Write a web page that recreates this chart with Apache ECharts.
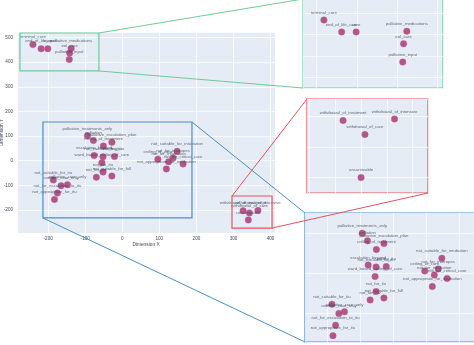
<!DOCTYPE html>
<html>
<head>
<meta charset="utf-8">
<script src="https://cdn.jsdelivr.net/npm/echarts@6/dist/echarts.min.js"></script>
<style>
  html, body { margin: 0; padding: 0; background: #ffffff; }
  #chart { width: 474px; height: 345px; }
</style>
</head>
<body>
<div id="chart"></div>
<script>
// Embedded terms and their 2-D projection coordinates
const terms = [
  'terminal_care', 'end_of_life_care', 'care', 'palliative_medications', 'eol_care', 'palliative_input',
  'withdrawal_of_treatment', 'withdrawal_of_intensive', 'withdrawal_of_care', 'unsurvivable',
  'palliative_treatments_only', 'palliation', 'palliative_escalation_plan', 'ceiling_of_treatment',
  'escalation_beyond', 'not_escalate_to_itu', 'ceiling_itu', 'ward_based_ceiling_of_care',
  'not_for_itu', 'not_for_niv', 'not_suitable_for_full',
  'not_suitable_for_itu', 'palliative_care_only', 'comfort_care_only', 'not_for_escalation_to_itu', 'not_appropriate_for_itu',
  'not_suitable_for_intubation', 'ceiling_of_care', 'not_for_inotropes', 'not_for_intubation',
  'not_for_critical_care', 'not_appropriate_for_intubation'
];
const dimX = [
  -241, -219, -201, -138, -142, -143,
  326, 366, 343, 340,
  -94, -78, -28, -51,
  -76, -52, -21, -55,
  -52, -70, -28,
  -186, -148, -165, -175, -183,
  148, 96, 137, 125,
  164, 119
];
const dimY = [
  471, 454, 454, 455, 437, 411,
  -203, -202, -212, -240,
  101, 82, 75, 60,
  21, 16, 17, -8,
  -46, -67, -62,
  -78, -97, -101, -131, -157,
  38, 6, 11, -4,
  -13, -33
];

const points = dimX.map((x, i) => [x, dimY[i], terms[i]]);

// main panel extent
const mainX = [-284, 412];
const mainY = [-293, 522];

// magnified views: region on the main panel, the inset frame (px) and its axis extent
const views = [
  { color: '#6fcb97', region: { x: [-276, -63], y: [364, 518] },
    frame: { left: 303, top: -1, width: 140, height: 89 },
    xr: [-267, -93], yr: [374, 501], links: [['tr', 'tl'], ['br', 'bl']] },
  { color: '#e4525c', region: { x: [296, 404], y: [-273, -143] },
    frame: { left: 307, top: 99, width: 121, height: 94 },
    xr: [298, 392], yr: [-250, -189], links: [['tl', 'tl'], ['br', 'br']] },
  { color: '#4b8fc4', region: { x: [-214, 188], y: [-232, 157] },
    frame: { left: 305, top: 213, width: 175, height: 129 },
    xr: [-268, 264], yr: [-173, 152], links: [['tr', 'tl'], ['bl', 'bl']] }
];

const bg = '#e5ecf6';
const textColor = '#3e4756';
const font = 'Liberation Sans, Arial, sans-serif';

const labelStyle = {
  show: true, position: 'top', distance: 2,
  formatter: p => p.data[2],
  fontSize: 4.3, color: textColor, fontFamily: font
};
const markerStyle = { color: '#a52f6c', borderColor: '#c25e96', borderWidth: 0.5 };

const grids = [{
  left: 17, top: 32, width: 258, height: 201, show: true, backgroundColor: bg, borderWidth: 0,
  containLabel: false, outerBoundsMode: 'none'
}];
const xAxes = [{
  gridIndex: 0, type: 'value', min: mainX[0], max: mainX[1], splitNumber: 5,
  name: 'Dimension X', nameLocation: 'middle', nameGap: 9, nameMoveOverlap: false,
  nameTextStyle: { fontSize: 4.8, color: textColor, fontFamily: font },
  axisLine: { show: false }, axisTick: { show: false },
  axisLabel: { fontSize: 4.6, color: textColor, margin: 3, fontFamily: font, showMinLabel: false, showMaxLabel: false },
  splitLine: { lineStyle: { color: '#ffffff', width: 0.8 } }
}];
const yAxes = [{
  gridIndex: 0, type: 'value', min: mainY[0], max: mainY[1], splitNumber: 8,
  name: 'Dimension Y', nameLocation: 'middle', nameGap: 13, nameRotate: 90, nameMoveOverlap: false,
  nameTextStyle: { fontSize: 4.8, color: textColor, fontFamily: font },
  axisLine: { show: false }, axisTick: { show: false },
  axisLabel: { fontSize: 4.6, color: textColor, margin: 4, fontFamily: font, showMinLabel: false, showMaxLabel: false },
  splitLine: { lineStyle: { color: '#ffffff', width: 0.8 } }
}];
const series = [{
  type: 'scatter', xAxisIndex: 0, yAxisIndex: 0, data: points,
  symbolSize: 6.5, itemStyle: markerStyle, label: labelStyle, z: 3
}];

views.forEach((v, k) => {
  const g = k + 1;
  grids.push(Object.assign({
    show: true, backgroundColor: bg, borderColor: v.color, borderWidth: 1.2,
    containLabel: false, outerBoundsMode: 'none'
  }, v.frame));
  xAxes.push({
    gridIndex: g, type: 'value', min: v.xr[0], max: v.xr[1], splitNumber: 4,
    axisLine: { show: false }, axisTick: { show: false }, axisLabel: { show: false },
    splitLine: { lineStyle: { color: '#ffffff', width: 0.7 } }
  });
  yAxes.push({
    gridIndex: g, type: 'value', min: v.yr[0], max: v.yr[1], splitNumber: 4,
    axisLine: { show: false }, axisTick: { show: false }, axisLabel: { show: false },
    splitLine: { lineStyle: { color: '#ffffff', width: 0.7 } }
  });
  series.push({
    type: 'scatter', xAxisIndex: g, yAxisIndex: g,
    data: points.filter(p => p[0] >= v.xr[0] && p[0] <= v.xr[1] && p[1] >= v.yr[0] && p[1] <= v.yr[1]),
    symbolSize: 6.5, itemStyle: markerStyle, label: labelStyle, z: 3
  });
});

const chart = echarts.init(document.getElementById('chart'), null, { renderer: 'canvas' });
chart.setOption({
  animation: false,
  backgroundColor: '#ffffff',
  grid: grids, xAxis: xAxes, yAxis: yAxes, series: series
});

// region outlines on the main panel plus connector lines to each inset
const shapes = [];
views.forEach(v => {
  const a = chart.convertToPixel({ gridIndex: 0 }, [v.region.x[0], v.region.y[1]]);
  const b = chart.convertToPixel({ gridIndex: 0 }, [v.region.x[1], v.region.y[0]]);
  const src = { l: a[0], r: b[0], t: a[1], b: b[1] };
  const f = v.frame;
  const dst = { l: f.left, r: f.left + f.width, t: f.top, b: f.top + f.height };
  shapes.push({
    type: 'rect', z: 20, silent: true,
    shape: { x: src.l, y: src.t, width: src.r - src.l, height: src.b - src.t },
    style: { fill: null, stroke: v.color, lineWidth: 1.2 }
  });
  v.links.forEach(([s, d]) => {
    shapes.push({
      type: 'line', z: 20, silent: true,
      shape: { x1: src[s[1]], y1: src[s[0]], x2: dst[d[1]], y2: dst[d[0]] },
      style: { stroke: v.color, lineWidth: 1 }
    });
  });
});
chart.setOption({ graphic: shapes });
</script>
</body>
</html>
